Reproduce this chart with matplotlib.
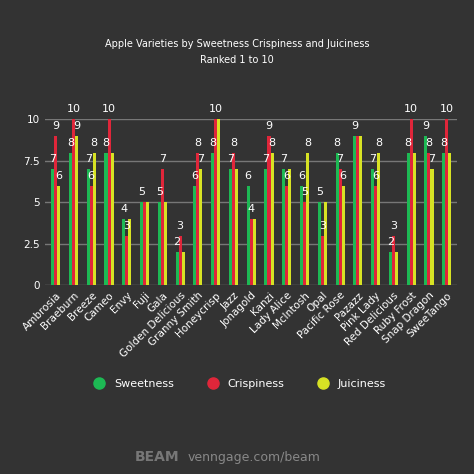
import matplotlib
matplotlib.use("Agg")
import matplotlib.pyplot as plt
import numpy as np
from matplotlib.lines import Line2D

apples = ["Ambrosia","Braeburn","Breeze","Cameo","Envy","Fuji","Gala","Golden Delicious",
          "Granny Smith","Honeycrisp","Jazz","Jonagold","Kanzi","Lady Alice","McIntosh","Opal",
          "Pacific Rose","Pazazz","Pink Lady","Red Delicious","Ruby Frost","Snap Dragon","SweeTango"]
sweetness = [7,8,7,8,4,5,5,2,6,8,7,6,7,7,6,5,8,9,7,2,8,9,8]
crispiness = [9,10,6,10,3,5,7,3,8,10,8,4,9,6,5,3,7,9,6,3,10,8,10]
juiciness = [6,9,8,8,4,5,5,2,7,10,7,4,8,7,8,5,6,9,8,2,8,7,8]

bg = "#333333"
cols = ["#1db954", "#e0263a", "#d7e224"]
fig = plt.figure(figsize=(4.74,4.74), dpi=100, facecolor=bg)
ax = fig.add_axes([0.095, 0.398, 0.87, 0.35], facecolor=bg)
x = np.arange(len(apples))
w = 0.17
series = [sweetness,crispiness,juiciness]
for i,(vals,c) in enumerate(zip(series,cols)):
    xs = x + (i-1)*w
    ax.bar(xs, vals, w, color=c, zorder=3)
for j in range(len(apples)):
    shown = set()
    for i in range(3):
        v = series[i][j]
        if v in shown:
            continue
        shown.add(v)
        ax.text(x[j]+(i-1)*w, v+0.3, str(v), ha="center", va="bottom", color="white",
                fontsize=8, zorder=4)
ax.set_ylim(0,10)
ax.set_yticks([0,2.5,5,7.5,10])
ax.set_yticklabels(["0","2.5","5","7.5","10"])
ax.set_xlim(-0.6, len(apples)-0.4)
ax.set_xticks(x)
ax.set_xticklabels(apples, rotation=45, ha="right", rotation_mode="anchor", fontsize=7, color="white")
ax.tick_params(colors="white", length=0, labelsize=7.5)
ax.grid(axis="y", color="#777777", lw=1, zorder=0)
for s in ax.spines.values(): s.set_visible(False)
fig.text(0.5, 0.89, "Apple Varieties by Sweetness Crispiness and Juiciness\nRanked 1 to 10",
         ha="center", va="center", color="white", fontsize=7, linespacing=1.8)
handles = [Line2D([],[],marker="o",ls="",color=c,markersize=8) for c in cols]
fig.legend(handles, ["Sweetness","Crispiness","Juiciness"], loc="center", bbox_to_anchor=(0.5,0.19),
           ncol=3, frameon=False, labelcolor="white", fontsize=8, columnspacing=2.5, handletextpad=0.3)
fig.text(0.285, 0.035, "BEAM", color="#777777", fontsize=10, fontweight="bold", va="center")
fig.text(0.395, 0.035, "venngage.com/beam", color="#888888", fontsize=9, va="center")
fig.savefig("out.png", facecolor=bg)
